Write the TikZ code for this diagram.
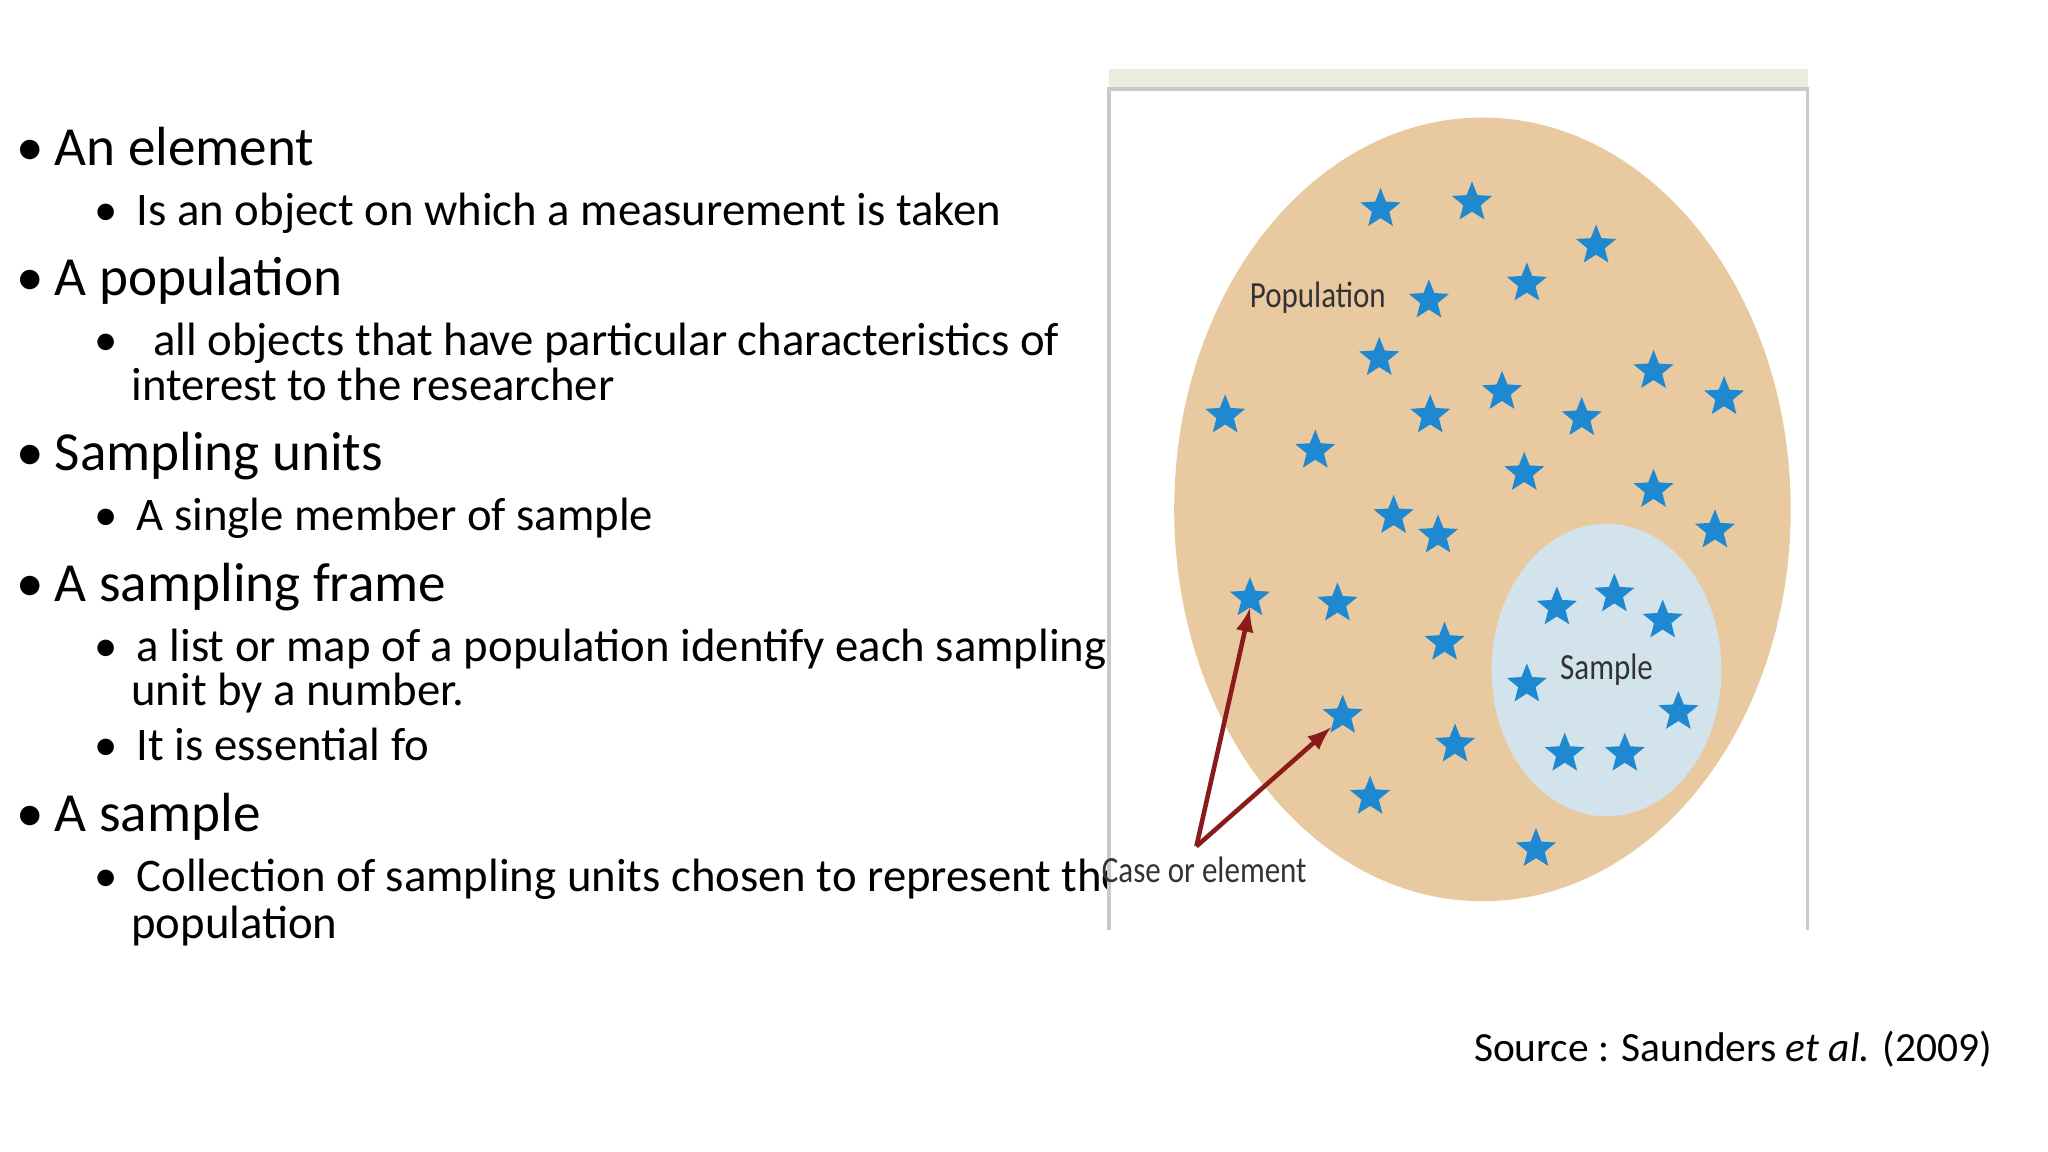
\documentclass[tikz,border=0pt]{standalone}
\usepackage{fontspec}
\setmainfont{Carlito}
\usetikzlibrary{shapes.geometric}
\definecolor{tan}{HTML}{E8C9A0}
\definecolor{skyfill}{HTML}{D2E3EC}
\definecolor{starblue}{HTML}{1E88D0}
\definecolor{darkred}{HTML}{8B1A1A}
\definecolor{framegray}{HTML}{C8CCC8}
\definecolor{barcol}{HTML}{EAEDE0}
\newcommand{\narrow}[1]{\scalebox{0.84}[1]{#1}}

\begin{document}
\begin{tikzpicture}[x=0.013061cm,y=-0.013061cm,
    top/.style={anchor=mid west,font=\fontsize{15.7pt}{17pt}\selectfont,inner sep=0pt},
    sub/.style={anchor=mid west,font=\fontsize{13.3pt}{15pt}\selectfont,inner sep=0pt},
    pop star/.style={star,star points=5,star point ratio=2.3,fill=starblue,draw=none,minimum size=0.42cm,inner sep=0pt},
    lbl/.style={font=\fontsize{10.5pt}{12pt}\selectfont,text=black!80,inner sep=0pt},
    point/.style={->,>=latex,darkred,line width=1.3pt}]
  \useasboundingbox (0,0) rectangle (1568,882);

  % bullet list
  \node[top] (t1) at (12,120) {•\hspace{0.2em}An element};
  \node[sub] (s1) at (72,166) {•\hspace{0.4em}Is an object on which a measurement is taken};
  \node[top] (t2) at (12,220) {•\hspace{0.2em}A population};
  \node[sub] (s2) at (72,266) {•\hspace{0.75em}all objects that have particular characteristics of};
  \node[sub] (s2b) at (100,300) {interest to the researcher};
  \node[top] (t3) at (12,354) {•\hspace{0.2em}Sampling units};
  \node[sub] (s3) at (72,400) {•\hspace{0.4em}A single member of sample};
  \node[top] (t4) at (12,454) {•\hspace{0.2em}A sampling frame};
  \node[sub] (s4) at (72,500) {•\hspace{0.4em}a list or map of a population identify each sampling};
  \node[sub] (s4b) at (100,534) {unit by a number.};
  \node[sub] (s5) at (72,576) {•\hspace{0.4em}It is essential fo};
  \node[top] (t5) at (12,630) {•\hspace{0.2em}A sample};
  \node[sub] (s6) at (72,676) {•\hspace{0.4em}Collection of sampling units chosen to represent the};
  \node[sub] (s6b) at (100,712) {population};

  % figure frame
  \fill[white] (849,53) rectangle (1384,712);
  \fill[barcol] (849,53) rectangle (1384,68);
  \draw[framegray,line width=1pt] (849,712) -- (849,68) -- (1384,68) -- (1384,712);

  \fill[tan] (1135,390) ellipse [x radius=236,y radius=300];
  \fill[skyfill] (1230,513) ellipse [x radius=88,y radius=112];

  \foreach \px/\py [count=\i] in {1057/160,1127/155,1222/188,1169/217,1094/230,1056/274,1266/284,1320/304,938/318,1150/300,1095/318,1211/320,1007/345,1167/362,1266/375,1313/406,1067/395,1101/410,957/458,1024/462,1106/492,1028/548,1114/570,1049/610,1176/650,1192/465,1236/455,1273/475,1169/524,1285/545,1198/577,1244/577}
    \node[pop star] (st\i) at (\px,\py) {};

  \node[lbl] (poplbl) at (1009,228) {\narrow{Population}};
  \node[lbl] (samplbl) at (1230,513) {\narrow{Sample}};
  \node[lbl] (caselbl) at (922,666) {\narrow{Case or element}};
  \coordinate (fork) at (916,648);
  \draw[point] (fork) -- (st19.south);
  \draw[point] (fork) -- (st22.south west);

  \node[sub,font=\fontsize{11.8pt}{13pt}\selectfont] (src) at (1128,806) {Source : Saunders \textit{et al.} (2009)};
\end{tikzpicture}
\end{document}
